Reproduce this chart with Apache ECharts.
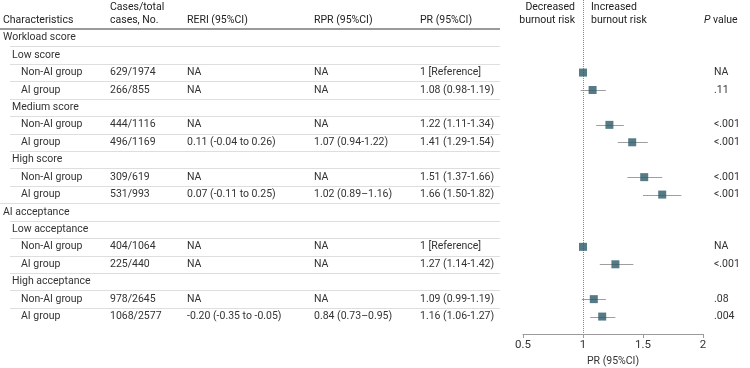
<!DOCTYPE html>
<html><head><meta charset="utf-8">
<script src="https://cdn.jsdelivr.net/npm/echarts@6/dist/echarts.min.js"></script>
<style>html,body{margin:0;padding:0;background:#fff}#c{width:750px;height:368px}</style>
</head><body><div id="c"></div>
<script>
// ---- data ----
const characteristics = ['Workload score','Low score','Non-AI group','AI group','Medium score','Non-AI group','AI group','High score','Non-AI group','AI group','AI acceptance','Low acceptance','Non-AI group','AI group','High acceptance','Non-AI group','AI group'];
const levels = [0,1,2,2,1,2,2,1,2,2,0,1,2,2,1,2,2];
const cases = ['','','629/1974','266/855','','444/1116','496/1169','','309/619','531/993','','','404/1064','225/440','','978/2645','1068/2577'];
const reri = ['','','NA','NA','','NA','0.11 (-0.04 to 0.26)','','NA','0.07 (-0.11 to 0.25)','','','NA','NA','','NA','-0.20 (-0.35 to -0.05)'];
const rpr = ['','','NA','NA','','NA','1.07 (0.94-1.22)','','NA','1.02 (0.89\u20131.16)','','','NA','NA','','NA','0.84 (0.73\u20130.95)'];
const prText = ['','','1 [Reference]','1.08 (0.98-1.19)','','1.22 (1.11-1.34)','1.41 (1.29-1.54)','','1.51 (1.37-1.66)','1.66 (1.50-1.82)','','','1 [Reference]','1.27 (1.14-1.42)','','1.09 (0.99-1.19)','1.16 (1.06-1.27)'];
const prEst = [null,null,1,1.08,null,1.22,1.41,null,1.51,1.66,null,null,1,1.27,null,1.09,1.16];
const prLow = [null,null,null,0.98,null,1.11,1.29,null,1.37,1.50,null,null,null,1.14,null,0.99,1.06];
const prHigh = [null,null,null,1.19,null,1.34,1.54,null,1.66,1.82,null,null,null,1.42,null,1.19,1.27];
const pValues = ['','','NA','.11','','<.001','<.001','','<.001','<.001','','','NA','<.001','','.08','.004'];
const xTicks = [0.5, 1, 1.5, 2];

// ---- styles ----
const FONT = '"Liberation Sans Narrow", "Roboto", sans-serif';
const FS = 10.5;
const TXT = '#333';
const n = characteristics.length;
const indentX = [3, 12, 21];
const colX = {cases:110, reri:187, rpr:314, pr:420, p:714};

function txt(x, y, s, extra) {
  return {type:'text', x:x, y:y, silent:true,
    style:Object.assign({text:s, fill:TXT, fontSize:FS, fontFamily:FONT, verticalAlign:'middle', align:'left'}, extra||{})};
}

const chart = echarts.init(document.getElementById('c'), null, {renderer:'canvas'});

const tableData = characteristics.map((_, i) => [1, i]);
const ciData = [];
const ptData = [];
for (let i = 0; i < n; i++) {
  if (prLow[i] != null) ciData.push([prLow[i], i, prHigh[i]]);
  if (prEst[i] != null) ptData.push([prEst[i], i]);
}

const option = {
  animation:false,
  backgroundColor:'#fff',
  grid:{left:523, width:180, top:0, height:334, containLabel:false, outerBoundsMode:'none'},
  xAxis:{type:'value', position:'bottom', min:xTicks[0], max:xTicks[xTicks.length-1], interval:0.5,
    axisLine:{show:true, onZero:false, lineStyle:{color:'#9a9a9a', width:1}},
    axisTick:{show:true, length:4, lineStyle:{color:'#9a9a9a'}},
    axisLabel:{color:TXT, fontSize:11.5, fontFamily:FONT, margin:5, formatter:v=>String(v)},
    splitLine:{show:false},
    name:'PR (95%CI)', nameLocation:'middle', nameGap:22,
    nameTextStyle:{color:TXT, fontSize:FS, fontFamily:FONT}},
  yAxis:{type:'value', inverse:true, min:-2.164, max:17, show:false},
  graphic:[
    txt(3, 20, 'Characteristics', {fill:'#222'}),
    txt(colX.cases, 7, 'Cases/total', {fill:'#222'}),
    txt(colX.cases, 20, 'cases, No.', {fill:'#222'}),
    txt(colX.reri, 20, 'RERI (95%CI)', {fill:'#222'}),
    txt(colX.rpr, 20, 'RPR (95%CI)', {fill:'#222'}),
    txt(colX.pr, 20, 'PR (95%CI)', {fill:'#222'}),
    txt(575, 7, 'Decreased', {fill:'#222', align:'right'}),
    txt(575, 20, 'burnout risk', {fill:'#222', align:'right'}),
    txt(591, 7, 'Increased', {fill:'#222'}),
    txt(591, 20, 'burnout risk', {fill:'#222'}),
    {type:'text', x:704, y:20, silent:true, style:{
      text:'{i|P} value', fill:'#222', fontSize:FS, fontFamily:FONT, verticalAlign:'middle',
      rich:{i:{fontStyle:'italic', fontSize:FS, fontFamily:FONT, fill:'#222'}}}},
    {type:'line', silent:true, shape:{x1:0, y1:29, x2:500, y2:29}, style:{stroke:'#9a9a9a', lineWidth:2}}
  ],
  series:[
    {type:'custom', name:'table', clip:false, silent:true,
      encode:{x:0, y:1},
      data:tableData,
      renderItem:function(params, api){
        const i = api.value(1);
        const y = api.coord([1, i])[1];
        const yNext = api.coord([1, i+1])[1];
        const children = [];
        children.push(txt(indentX[levels[i]], y, characteristics[i]));
        if (cases[i]) children.push(txt(colX.cases, y, cases[i]));
        if (reri[i]) children.push(txt(colX.reri, y, reri[i]));
        if (rpr[i]) children.push(txt(colX.rpr, y, rpr[i]));
        if (prText[i]) children.push(txt(colX.pr, y, prText[i]));
        if (pValues[i]) children.push(txt(colX.p, y, pValues[i]));
        if (i < n-1) {
          const ly = Math.round((y + yNext)/2) + 0.5;
          children.push({type:'line', silent:true,
            shape:{x1: levels[i+1] === 0 ? 0 : 10, y1:ly, x2:500, y2:ly},
            style:{stroke:'#dedede', lineWidth:1}});
        }
        return {type:'group', children:children};
      }},
    {type:'custom', name:'ci', silent:true,
      encode:{x:[0,2], y:1},
      data:ciData,
      renderItem:function(params, api){
        const a = api.coord([api.value(0), api.value(1)]);
        const b = api.coord([api.value(2), api.value(1)]);
        const y = Math.round(a[1]) + 0.5;
        return {type:'line', shape:{x1:a[0], y1:y, x2:b[0], y2:y}, style:{stroke:'#9e9e9e', lineWidth:1}};
      }},
    {type:'scatter', name:'pr', silent:true, symbol:'rect', symbolSize:8,
      itemStyle:{color:'#2c5a68'}, z:5,
      data:ptData,
      markLine:{silent:true, symbol:'none', label:{show:false},
        lineStyle:{type:'dotted', color:'#888', width:1},
        data:[{xAxis:1}]}}
  ]
};
chart.setOption(option);
</script>
</body></html>
